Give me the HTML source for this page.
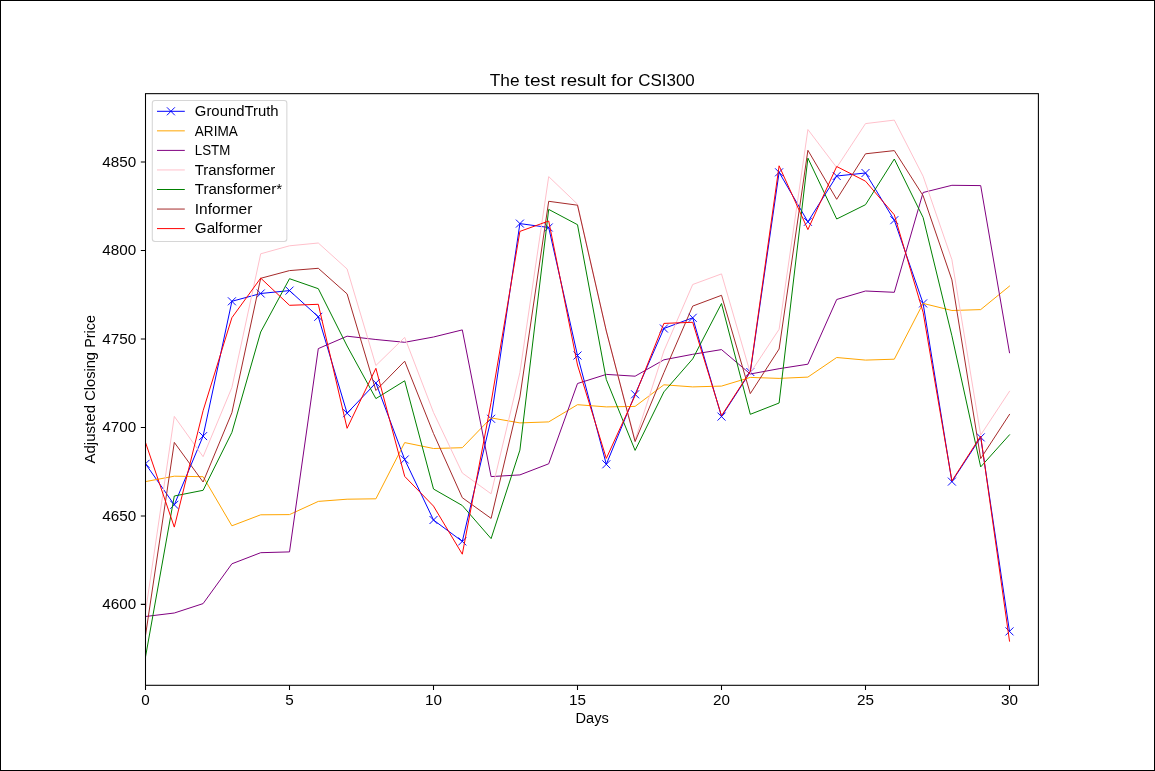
<!DOCTYPE html>
<html><head><meta charset="utf-8"><title>The test result for CSI300</title>
<style>html,body{margin:0;padding:0;background:#fff;}body{width:1155px;height:771px;overflow:hidden;}svg{display:block;will-change:transform;}text{font-family:"Liberation Sans",sans-serif;fill:#000;}</style>
</head><body>
<svg width="1155" height="771" viewBox="0 0 1155 771">
<rect x="0" y="0" width="1155" height="771" fill="#fff"/>
<rect x="0.5" y="0.5" width="1154" height="770" fill="none" stroke="#000" stroke-width="1"/>
<defs><clipPath id="ax"><rect x="145.5" y="93.66" width="892.9" height="591.64"/></clipPath></defs>
<g clip-path="url(#ax)" fill="none" stroke-linejoin="round" stroke-linecap="square" stroke-width="1">
<polyline points="145.5,463.8 174.3,504.8 203.1,436.1 231.9,301.3 260.7,293.5 289.5,290.6 318.3,316.8 347.1,413.2 375.9,383 404.7,459.5 433.5,520 462.3,541.4 491.1,418.8 519.9,223.6 548.7,227.5 577.5,355.5 606.3,464.3 635.1,394.3 663.9,328.5 692.7,317.8 721.5,416.6 750.3,372 779.1,172.3 807.9,221.8 836.7,176 865.5,173 894.3,220.2 923.1,303.4 951.9,481.6 980.7,437.4 1009.5,631.4" stroke="#0000ff"/>
<path d="M141.5 459.8L149.5 467.8M141.5 467.8L149.5 459.8M170.3 500.8L178.3 508.8M170.3 508.8L178.3 500.8M199.1 432.1L207.1 440.1M199.1 440.1L207.1 432.1M227.9 297.3L235.9 305.3M227.9 305.3L235.9 297.3M256.7 289.5L264.7 297.5M256.7 297.5L264.7 289.5M285.5 286.6L293.5 294.6M285.5 294.6L293.5 286.6M314.3 312.8L322.3 320.8M314.3 320.8L322.3 312.8M343.1 409.2L351.1 417.2M343.1 417.2L351.1 409.2M371.9 379L379.9 387M371.9 387L379.9 379M400.7 455.5L408.7 463.5M400.7 463.5L408.7 455.5M429.5 516L437.5 524M429.5 524L437.5 516M458.3 537.4L466.3 545.4M458.3 545.4L466.3 537.4M487.1 414.8L495.1 422.8M487.1 422.8L495.1 414.8M515.9 219.6L523.9 227.6M515.9 227.6L523.9 219.6M544.7 223.5L552.7 231.5M544.7 231.5L552.7 223.5M573.5 351.5L581.5 359.5M573.5 359.5L581.5 351.5M602.3 460.3L610.3 468.3M602.3 468.3L610.3 460.3M631.1 390.3L639.1 398.3M631.1 398.3L639.1 390.3M659.9 324.5L667.9 332.5M659.9 332.5L667.9 324.5M688.7 313.8L696.7 321.8M688.7 321.8L696.7 313.8M717.5 412.6L725.5 420.6M717.5 420.6L725.5 412.6M746.3 368L754.3 376M746.3 376L754.3 368M775.1 168.3L783.1 176.3M775.1 176.3L783.1 168.3M803.9 217.8L811.9 225.8M803.9 225.8L811.9 217.8M832.7 172L840.7 180M832.7 180L840.7 172M861.5 169L869.5 177M861.5 177L869.5 169M890.3 216.2L898.3 224.2M890.3 224.2L898.3 216.2M919.1 299.4L927.1 307.4M919.1 307.4L927.1 299.4M947.9 477.6L955.9 485.6M947.9 485.6L955.9 477.6M976.7 433.4L984.7 441.4M976.7 441.4L984.7 433.4M1005.5 627.4L1013.5 635.4M1005.5 635.4L1013.5 627.4" stroke="#0000ff" stroke-width="0.95" stroke-linecap="butt"/>
<polyline points="145.5,481.6 174.3,476.2 203.1,476.7 231.9,525.8 260.7,514.8 289.5,514.6 318.3,501.4 347.1,499.2 375.9,498.8 404.7,442.6 433.5,448.5 462.3,447.7 491.1,417.9 519.9,422.9 548.7,421.9 577.5,404.7 606.3,406.9 635.1,406.4 663.9,384.8 692.7,386.9 721.5,386.1 750.3,377.4 779.1,378.4 807.9,377.1 836.7,357.5 865.5,360.1 894.3,359.2 923.1,303.4 951.9,310.5 980.7,309.6 1009.5,286.1" stroke="#ffa500"/>
<polyline points="145.5,616.5 174.3,613 203.1,603.6 231.9,563.8 260.7,552.7 289.5,551.9 318.3,348.6 347.1,336.2 375.9,339.5 404.7,342.3 433.5,337 462.3,329.9 491.1,476.6 519.9,474.9 548.7,463.8 577.5,383.5 606.3,374.4 635.1,376.2 663.9,359.8 692.7,354.3 721.5,349.6 750.3,374 779.1,368.7 807.9,364.2 836.7,299.5 865.5,291 894.3,292.3 923.1,192.5 951.9,185.3 980.7,185.6 1009.5,352.7" stroke="#800080"/>
<polyline points="145.5,612 174.3,416.4 203.1,456.7 231.9,387.5 260.7,253.8 289.5,245.8 318.3,243 347.1,269 375.9,365.5 404.7,337.4 433.5,412.5 462.3,473 491.1,493.8 519.9,372.5 548.7,176.6 577.5,204.2 606.3,331 635.1,440.3 663.9,351 692.7,284.5 721.5,273.9 750.3,373 779.1,329.3 807.9,129.5 836.7,167.5 865.5,123.6 894.3,120.1 923.1,176.2 951.9,259.7 980.7,435 1009.5,391.3" stroke="#ffc0cb"/>
<polyline points="145.5,656.9 174.3,496 203.1,490.3 231.9,432.4 260.7,332 289.5,278.7 318.3,288.7 347.1,346 375.9,398.6 404.7,380.8 433.5,489 462.3,505.5 491.1,538.6 519.9,450.1 548.7,209.4 577.5,224.7 606.3,379.5 635.1,450.4 663.9,391.9 692.7,358.9 721.5,303.5 750.3,414.3 779.1,403 807.9,158.1 836.7,219 865.5,204.7 894.3,159 923.1,217.5 951.9,335.8 980.7,466.9 1009.5,434.8" stroke="#008000"/>
<polyline points="145.5,635.5 174.3,442.4 203.1,482 231.9,412.7 260.7,278.3 289.5,270.6 318.3,268.3 347.1,293.9 375.9,390.5 404.7,361.2 433.5,433.5 462.3,497.7 491.1,518.4 519.9,397 548.7,201.3 577.5,205.2 606.3,331 635.1,441.6 663.9,372.7 692.7,306.1 721.5,295.3 750.3,393.6 779.1,349 807.9,150.3 836.7,199.3 865.5,153.8 894.3,150.6 923.1,195.7 951.9,279.9 980.7,458.6 1009.5,414.4" stroke="#a52a2a"/>
<polyline points="145.5,442.4 174.3,527.1 203.1,410.7 231.9,317.7 260.7,278.1 289.5,305.3 318.3,304.3 347.1,428.3 375.9,368.3 404.7,476.4 433.5,506.1 462.3,554.2 491.1,402.5 519.9,231.4 548.7,221 577.5,365 606.3,458.4 635.1,395.5 663.9,323.4 692.7,322.3 721.5,415.7 750.3,371.3 779.1,165.8 807.9,229.6 836.7,166.5 865.5,181.2 894.3,214.8 923.1,312.3 951.9,480.9 980.7,436.1 1009.5,641.1" stroke="#ff0000"/>
</g>
<rect x="145.5" y="93.66" width="892.9" height="591.64" fill="none" stroke="#000" stroke-width="1.067" stroke-linejoin="miter"/>
<path d="M145.5 685.3V689.97M289.5 685.3V689.97M433.5 685.3V689.97M577.5 685.3V689.97M721.5 685.3V689.97M865.5 685.3V689.97M1009.5 685.3V689.97M145.5 604.4H140.83M145.5 515.92H140.83M145.5 427.44H140.83M145.5 338.96H140.83M145.5 250.48H140.83M145.5 162H140.83" stroke="#000" stroke-width="1.067" fill="none"/>
<text id="xt0" x="141.26" y="704.8" font-size="14" textLength="8.48" lengthAdjust="spacingAndGlyphs">0</text>
<text id="xt5" x="285.26" y="704.8" font-size="14" textLength="8.48" lengthAdjust="spacingAndGlyphs">5</text>
<text id="xt10" x="425.02" y="704.8" font-size="14" textLength="16.97" lengthAdjust="spacingAndGlyphs">10</text>
<text id="xt15" x="569.02" y="704.8" font-size="14" textLength="16.97" lengthAdjust="spacingAndGlyphs">15</text>
<text id="xt20" x="713.02" y="704.8" font-size="14" textLength="16.97" lengthAdjust="spacingAndGlyphs">20</text>
<text id="xt25" x="857.02" y="704.8" font-size="14" textLength="16.97" lengthAdjust="spacingAndGlyphs">25</text>
<text id="xt30" x="1001.02" y="704.8" font-size="14" textLength="16.97" lengthAdjust="spacingAndGlyphs">30</text>
<text id="yt4600" x="102.24" y="609.3" font-size="14" textLength="33.93" lengthAdjust="spacingAndGlyphs">4600</text>
<text id="yt4650" x="102.24" y="520.82" font-size="14" textLength="33.93" lengthAdjust="spacingAndGlyphs">4650</text>
<text id="yt4700" x="102.24" y="432.34" font-size="14" textLength="33.93" lengthAdjust="spacingAndGlyphs">4700</text>
<text id="yt4750" x="102.24" y="343.86" font-size="14" textLength="33.93" lengthAdjust="spacingAndGlyphs">4750</text>
<text id="yt4800" x="102.24" y="255.38" font-size="14" textLength="33.93" lengthAdjust="spacingAndGlyphs">4800</text>
<text id="yt4850" x="102.24" y="166.9" font-size="14" textLength="33.93" lengthAdjust="spacingAndGlyphs">4850</text>
<text id="days" x="575.57" y="722.6" font-size="14" textLength="33.27" lengthAdjust="spacingAndGlyphs">Days</text>
<g transform="translate(94.5 389.3) rotate(-90)">
<text id="yl0" x="-74.28" y="0" font-size="14" textLength="58.58" lengthAdjust="spacingAndGlyphs">Adjusted</text>
<text id="yl1" x="-11.46" y="0" font-size="14" textLength="48.74" lengthAdjust="spacingAndGlyphs">Closing</text>
<text id="yl2" x="41.52" y="0" font-size="14" textLength="32.76" lengthAdjust="spacingAndGlyphs">Price</text>
</g>
<text id="tt0" x="489.78" y="85.7" font-size="16.8" textLength="29.76" lengthAdjust="spacingAndGlyphs">The</text>
<text id="tt1" x="524.63" y="85.7" font-size="16.8" textLength="30.73" lengthAdjust="spacingAndGlyphs">test</text>
<text id="tt2" x="560.44" y="85.7" font-size="16.8" textLength="45.62" lengthAdjust="spacingAndGlyphs">result</text>
<text id="tt3" x="611.14" y="85.7" font-size="16.8" textLength="22" lengthAdjust="spacingAndGlyphs">for</text>
<text id="tt4" x="638.23" y="85.7" font-size="16.8" textLength="56.59" lengthAdjust="spacingAndGlyphs">CSI300</text>
<rect x="152.3" y="100.5" width="134.56" height="141.0" rx="2.67" ry="2.67" fill="#fff" fill-opacity="0.8" stroke="#cccccc" stroke-opacity="0.8" stroke-width="1.067"/>
<path d="M157.0 111.3H184.8" stroke="#0000ff" stroke-width="1" fill="none"/>
<path d="M166.9 107.3L174.9 115.3M166.9 115.3L174.9 107.3" stroke="#0000ff" stroke-width="0.95" fill="none"/>
<text id="leg0" x="194.83" y="116.05" font-size="14" textLength="83.8" lengthAdjust="spacingAndGlyphs">GroundTruth</text>
<path d="M157.0 130.85H184.8" stroke="#ffa500" stroke-width="1" fill="none"/>
<text id="leg1" x="194.83" y="135.6" font-size="14" textLength="42.9" lengthAdjust="spacingAndGlyphs">ARIMA</text>
<path d="M157.0 150.4H184.8" stroke="#800080" stroke-width="1" fill="none"/>
<text id="leg2" x="194.83" y="155.15" font-size="14" textLength="35.5" lengthAdjust="spacingAndGlyphs">LSTM</text>
<path d="M157.0 169.95H184.8" stroke="#ffc0cb" stroke-width="1" fill="none"/>
<text id="leg3" x="194.83" y="174.7" font-size="14" textLength="80.5" lengthAdjust="spacingAndGlyphs">Transformer</text>
<path d="M157.0 189.5H184.8" stroke="#008000" stroke-width="1" fill="none"/>
<text id="leg4" x="194.83" y="194.25" font-size="14" textLength="87.3" lengthAdjust="spacingAndGlyphs">Transformer*</text>
<path d="M157.0 209.05H184.8" stroke="#a52a2a" stroke-width="1" fill="none"/>
<text id="leg5" x="194.83" y="213.8" font-size="14" textLength="57.5" lengthAdjust="spacingAndGlyphs">Informer</text>
<path d="M157.0 228.6H184.8" stroke="#ff0000" stroke-width="1" fill="none"/>
<text id="leg6" x="194.83" y="233.35" font-size="14" textLength="67.5" lengthAdjust="spacingAndGlyphs">Galformer</text>
</svg>
</body></html>
